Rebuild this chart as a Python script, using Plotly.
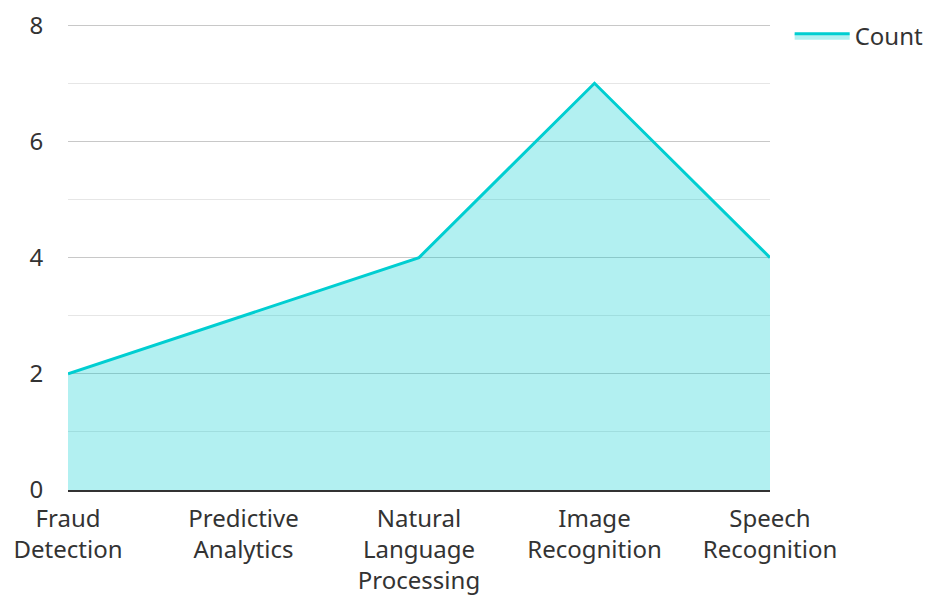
import plotly.graph_objects as go

categories = ["Fraud<br>Detection", "Predictive<br>Analytics", "Natural<br>Language<br>Processing",
              "Image<br>Recognition", "Speech<br>Recognition"]
counts = [2, 3, 4, 7, 4]
series_name = "Count"

fig = go.Figure()
fig.add_trace(go.Scatter(
    x=categories, y=counts, name=series_name, mode="lines",
    line=dict(color="#00CED1", width=3),
    fill="tozeroy", fillcolor="rgba(0,206,209,0.3)",
))

font_family = "Noto Sans"
fs = 24
fig.update_layout(
    width=928, height=597,
    margin=dict(l=68, r=158, t=24, b=107, autoexpand=False),
    paper_bgcolor="white", plot_bgcolor="white",
    font=dict(family=font_family, size=fs, color="#333"),
    showlegend=True,
    legend=dict(x=1.028, y=1.022, xanchor="left", yanchor="top", itemwidth=55,
                font=dict(size=fs, color="#333"), bgcolor="rgba(0,0,0,0)"),
    xaxis=dict(
        type="category", range=[0, 4], showgrid=False,
        showline=True, linecolor="#333", linewidth=2,
        ticks="outside", ticklen=6, tickcolor="rgba(0,0,0,0)",
        tickfont=dict(size=fs, color="#333"),
        fixedrange=True,
    ),
    yaxis=dict(
        range=[0, 8.02], tickvals=[0, 2, 4, 6, 8], showgrid=True, gridcolor="#c8c8c8", gridwidth=1,
        zeroline=False, showline=False,
        ticks="outside", ticklen=19, tickcolor="rgba(0,0,0,0)",
        tickfont=dict(size=fs, color="#333"),
        minor=dict(tickvals=[1, 3, 5, 7], showgrid=True, gridcolor="#e6e6e6", gridwidth=1),
        fixedrange=True,
    ),
)
fig.write_html("out.html", config={"displayModeBar": False},
               post_script="document.body.style.margin='0';")
